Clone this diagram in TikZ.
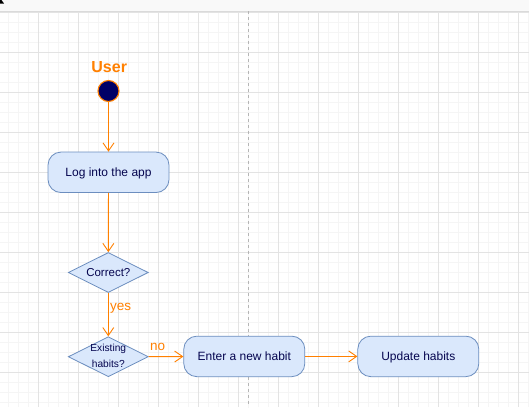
\documentclass[tikz,border=0pt]{standalone}
\usepackage{fontspec}
\setmainfont{Liberation Sans}
\usetikzlibrary{shapes.geometric,arrows.meta}
\definecolor{uorange}{HTML}{FF8000}
\definecolor{unavy}{HTML}{000066}
\definecolor{boxfill}{HTML}{DAE8FC}
\definecolor{boxline}{HTML}{6C8EBF}
\definecolor{gridmajor}{HTML}{E3E3E3}
\definecolor{gridminor}{HTML}{F5F5F5}
\definecolor{barfill}{HTML}{F9F9F9}
\definecolor{barline}{HTML}{DADADA}
\definecolor{lanedash}{HTML}{B5B5B5}
\definecolor{txtnavy}{HTML}{05054F}
\begin{document}
\begin{tikzpicture}[x=1pt,y=-1pt,
  actbox/.style={draw=boxline, fill=boxfill, rounded corners=13pt, minimum width=121pt, minimum height=40.5pt, inner sep=0pt, text=txtnavy, font=\fontsize{12}{14}\selectfont, text height=8.6pt, text depth=0pt, line width=0.8pt},
  decision/.style={draw=boxline, fill=boxfill, shape=diamond, minimum width=80pt, minimum height=40pt, inner sep=0pt, line width=0.8pt},
  dtext/.style={text=txtnavy, align=center, inner sep=0pt},
  flow/.style={draw=uorange, line width=0.9pt, -{Straight Barb[length=8pt,width=11pt]}},
  lbl/.style={text=uorange, font=\fontsize{13.5}{16}\selectfont, inner sep=0pt, anchor=base west},
]
\fill[white] (0,0) rectangle (529,407);
\useasboundingbox (0,0) rectangle (529,407);
% grid
\foreach \i in {0,...,53} \draw[gridminor, line width=0.7pt] ({-1.7+10*\i},11) -- ({-1.7+10*\i},407);
\foreach \j in {0,...,39} \draw[gridminor, line width=0.7pt] (0,{12.5+10*\j}) -- (529,{12.5+10*\j});
\foreach \i in {0,...,13} \draw[gridmajor, line width=0.8pt] ({-1.7+40*\i},11) -- ({-1.7+40*\i},407);
\foreach \j in {0,...,9} \draw[gridmajor, line width=0.8pt] (0,{12.5+40*\j}) -- (529,{12.5+40*\j});
% top bar
\fill[barfill] (0,0) rectangle (529,11);
\draw[barline, line width=0.8pt] (0,11) -- (529,11);
\fill[black] (0,0) -- (1.5,0) -- (4,3.5) -- (0,3.5) -- cycle;
% lane separator
\draw[lanedash, line width=0.8pt, dash pattern=on 3pt off 3pt] (248.3,11) -- (248.3,407);
% nodes
\node[text=uorange, font=\bfseries\fontsize{16}{19}\selectfont, inner sep=0pt, anchor=base] (user) at (109.2,72.7) {User};
\node[circle, draw=uorange, fill=unavy, minimum size=21pt, inner sep=0pt, line width=1.1pt] (start) at (108.5,91) {};
\node[actbox] (log) at (108.5,172.3) {Log into the app};
\node[decision] (correct) at (108.3,272.5) {};
\node[dtext, font=\fontsize{11.5}{14}\selectfont] (correcttxt) at (correct.center) {Correct?};
\node[decision] (exist) at (108.3,356.7) {};
\node[dtext, font=\fontsize{10.2}{16.5}\selectfont] (existtxt) at ([yshift=0.8pt]exist.center) {Existing\\habits?};
\node[actbox] (enter) at (244.3,356.4) {Enter a new habit};
\node[actbox] (update) at (418.3,356.4) {Update habits};
% connectors
\draw[flow] (start) -- (log);
\draw[flow] (log) -- (correct);
\draw[flow] (correct) -- (exist);
\draw[flow] (exist) -- (enter);
\draw[flow] (enter) -- (update);
% labels
\node[lbl] (yes) at (110,310.7) {yes};
\node[lbl] (no) at (150,350) {no};
\end{tikzpicture}
\end{document}
